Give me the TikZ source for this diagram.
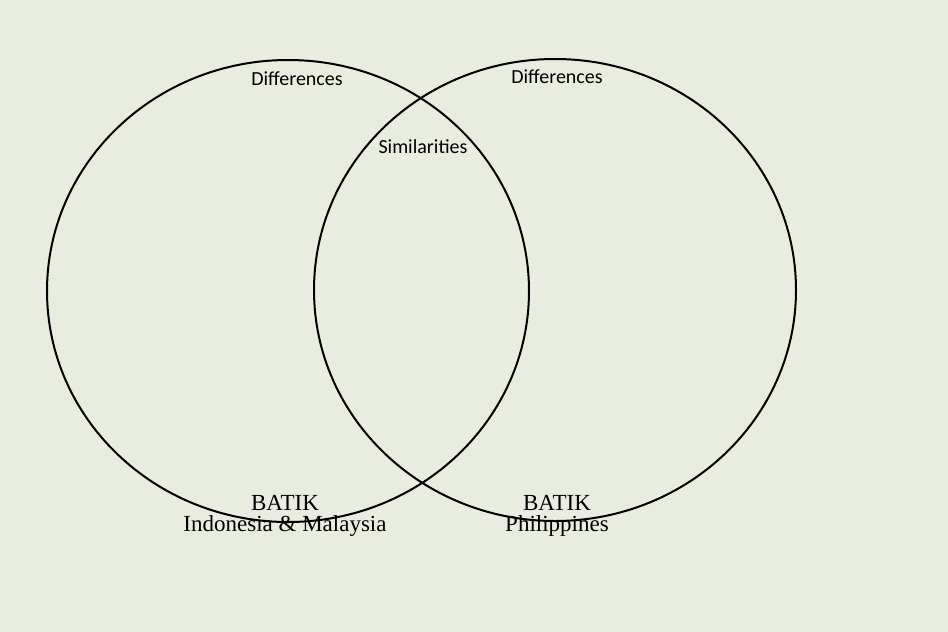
\documentclass[tikz,border=0pt]{standalone}
\usepackage{fontspec}
\setmainfont{Liberation Serif}
\newfontfamily\labelfont{Carlito}
\usetikzlibrary{shapes.geometric}
\definecolor{paper}{RGB}{233,237,224}
\tikzset{
	setbox/.style={ellipse, draw, line width=2pt, minimum width=482pt, minimum height=462pt, inner sep=0pt},
	difftext/.style={font=\labelfont\fontsize{20}{22}\selectfont, inner sep=0pt},
	batiktext/.style={font=\fontsize{23}{21}\selectfont, align=center, inner sep=0pt}
}
\begin{document}
\begin{tikzpicture}[x=1pt,y=-1pt]
		\fill [paper] (0,0) rectangle (948,632);
		\useasboundingbox (0,0) rectangle (948,632);
		% the two sets
		\node (indo) [setbox] at (288,291) {};
		\node (phil) [setbox] at (555,290) {};
		% labels inside
		\node (diffindo) [difftext] at (297,79) {Differences};
		\node (diffphil) [difftext] at (557,77) {Differences};
		\node (similar) [difftext] at (423,147) {Similarities};
		% labels below
		\node (nameindo) [batiktext] at (285,516) {BATIK\\Indonesia \& Malaysia};
		\node (namephil) [batiktext] at (557,516) {BATIK\\Philippines};
	\end{tikzpicture}
\end{document}
